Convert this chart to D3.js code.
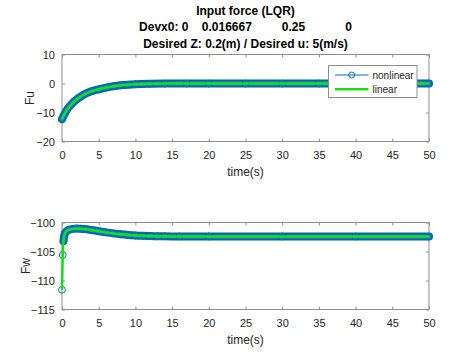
<!DOCTYPE html>
<html><head><meta charset="utf-8">
<script src="https://cdn.jsdelivr.net/npm/d3@7"></script>
<style>
body{margin:0;background:#fff}
svg{display:block;font-family:"Liberation Sans",Arial,Helvetica,sans-serif}
</style>
</head><body>
<svg id="c" width="474" height="355"></svg>
<script>
// ---- data ----
const titleLines = ["Input force (LQR)",
  "Devx0: 0    0.016667         0.25            0",
  "Desired Z: 0.2(m) / Desired u: 5(m/s)"];
const xTicks = [0, 5, 10, 15, 20, 25, 30, 35, 40, 45, 50];
const fuTicks = [-20, -10, 0, 10];
const fwTicks = [-115, -110, -105, -100];
const legendLabels = ["nonlinear", "linear"];
const xLabel = "time(s)";

const fuTime = [0, 0.25, 0.5, 0.75, 1, 1.5, 2, 2.5, 3, 4, 5, 6, 7, 8, 9, 10, 12, 14, 17, 20, 25, 30, 35, 40, 45, 50];
const fuNonlinear = [-12.3, -11.0, -9.8, -8.8, -8.0, -6.6, -5.5, -4.6, -3.8, -2.7, -2.0, -1.4, -0.95, -0.62, -0.4, -0.25, -0.1, -0.04, 0, 0, 0, 0, 0, 0, 0, 0];
const fuLinear = [-12.3, -11.0, -9.8, -8.8, -8.0, -6.6, -5.5, -4.6, -3.8, -2.7, -2.0, -1.4, -0.95, -0.62, -0.4, -0.25, -0.1, -0.04, 0, 0, 0, 0, 0, 0, 0, 0];

const fwTime = [0, 0.1, 0.2, 0.3, 0.4, 0.5, 0.75, 1, 1.5, 2, 2.5, 3, 4, 5, 6, 7, 8, 9, 10, 11, 12, 13, 14, 16, 20, 30, 40, 50];
const fwNonlinear = [-111.6, -105.6, -103.2, -102.3, -101.9, -101.65, -101.38, -101.24, -101.1, -101.05, -101.07, -101.13, -101.3, -101.5, -101.7, -101.88, -102.03, -102.15, -102.24, -102.3, -102.34, -102.37, -102.39, -102.41, -102.42, -102.42, -102.42, -102.42];
const fwLinear = [-111.6, -105.6, -103.2, -102.3, -101.9, -101.65, -101.38, -101.24, -101.1, -101.05, -101.07, -101.13, -101.3, -101.5, -101.7, -101.88, -102.03, -102.15, -102.24, -102.3, -102.34, -102.37, -102.39, -102.41, -102.42, -102.42, -102.42, -102.42];

// ---- layout / style ----
const svg = d3.select("#c");
const X0 = 62, X1 = 429;
const sampleDt = 0.1;          // simulation step: markers merge into a band where samples are dense
const blue = "#0a62aa", teal = "#2a90c0", green = "#14e014";
const axisCol = "#8f8f8f", textCol = "#262626";

svg.append("g").selectAll("text").data(titleLines).join("text")
  .attr("x", 245.5).attr("y", (d, i) => 14.5 + i * 16.7)
  .attr("text-anchor", "middle").attr("font-size", 12).attr("font-weight", "bold")
  .attr("fill", "#000").style("white-space", "pre").text(d => d);

const x = d3.scaleLinear().domain([0, 50]).range([X0, X1]);

const panels = [
  {label: "Fu", ticks: fuTicks, domain: [-20, 10], top: 54.5, bottom: 141.5, t: fuTime, nl: fuNonlinear, li: fuLinear, legend: true, labelX: 33.5},
  {label: "Fw", ticks: fwTicks, domain: [-115, -100], top: 222.5, bottom: 309.5, t: fwTime, nl: fwNonlinear, li: fwLinear, legend: false, labelX: 29.5}
];

panels.forEach(p => {
  const y = d3.scaleLinear().domain(p.domain).range([p.bottom, p.top]);
  const g = svg.append("g");

  const styleAxis = sel => {
    sel.select(".domain").remove();
    sel.selectAll(".tick line").attr("stroke", axisCol);
    sel.selectAll(".tick text").attr("fill", textCol).attr("font-size", 11)
      .attr("font-family", '"Liberation Sans",Arial,sans-serif');
  };
  g.append("g").attr("transform", `translate(0,${p.bottom})`)
    .call(d3.axisBottom(x).tickValues(xTicks).tickSizeInner(-3).tickSizeOuter(0).tickPadding(9.6)).call(styleAxis);
  g.append("g").attr("transform", `translate(0,${p.top})`)
    .call(d3.axisTop(x).tickValues(xTicks).tickSizeInner(-3).tickSizeOuter(0).tickFormat("")).call(styleAxis);
  g.append("g").attr("transform", `translate(${X0},0)`)
    .call(d3.axisLeft(y).tickValues(p.ticks).tickSizeInner(-3).tickSizeOuter(0).tickPadding(7)).call(styleAxis);
  g.append("g").attr("transform", `translate(${X1},0)`)
    .call(d3.axisRight(y).tickValues(p.ticks).tickSizeInner(-3).tickSizeOuter(0).tickFormat("")).call(styleAxis);

  g.append("rect").attr("x", X0).attr("y", p.top).attr("width", X1 - X0).attr("height", p.bottom - p.top)
    .attr("fill", "none").attr("stroke", axisCol).attr("stroke-width", 1);

  g.append("text").attr("x", (X0 + X1) / 2).attr("y", p.bottom + 34.7).attr("text-anchor", "middle")
    .attr("font-size", 12).attr("fill", textCol).text(xLabel);
  g.append("text").attr("transform", `translate(${p.labelX},${(p.top + p.bottom) / 2}) rotate(-90)`)
    .attr("text-anchor", "middle").attr("font-size", 12).attr("fill", textCol).text(p.label);

  const nlPts = p.t.map((t, i) => [t, p.nl[i]]);
  const liPts = p.t.map((t, i) => [t, p.li[i]]);
  const line = d3.line().x(d => x(d[0])).y(d => y(d[1])).curve(d3.curveMonotoneX);

  // dense-marker band: segments where consecutive samples are closer than a marker
  const runs = [];
  let cur = null;
  for (let i = 0; i < nlPts.length - 1; i++) {
    const a = nlPts[i], b = nlPts[i + 1];
    const dist = Math.hypot(x(b[0]) - x(a[0]), y(b[1]) - y(a[1]));
    const n = Math.max(1, Math.round((b[0] - a[0]) / sampleDt));
    if (dist / n < 6) {
      if (!cur) { cur = [a]; runs.push(cur); }
      cur.push(b);
    } else cur = null;
  }
  runs.forEach(r => {
    g.append("path").attr("d", line(r)).attr("fill", "none").attr("stroke", blue)
      .attr("stroke-width", 8).attr("stroke-linecap", "round").attr("stroke-linejoin", "round");
    g.append("path").attr("d", line(r)).attr("fill", "none").attr("stroke", teal)
      .attr("stroke-width", 3.8).attr("stroke-linecap", "round").attr("stroke-linejoin", "round");
  });
  g.append("path").attr("d", line(nlPts)).attr("fill", "none").attr("stroke", "#0072BD").attr("stroke-width", 1);
  g.selectAll("circle.m").data(nlPts).join("circle").attr("class", "m")
    .attr("cx", d => x(d[0])).attr("cy", d => y(d[1])).attr("r", 3.4)
    .attr("fill", "none").attr("stroke", "#0072BD").attr("stroke-width", 1);
  g.append("path").attr("d", line(liPts)).attr("fill", "none").attr("stroke", green)
    .attr("stroke-width", 2.5).attr("stroke-linejoin", "round");

  if (p.legend) {
    const lg = g.append("g");
    lg.append("rect").attr("x", 328.5).attr("y", 65.5).attr("width", 88.5).attr("height", 32)
      .attr("fill", "#fff").attr("stroke", axisCol).attr("stroke-width", 1);
    const rows = lg.selectAll("g.row").data(legendLabels).join("g").attr("class", "row")
      .attr("transform", (d, i) => `translate(0,${75 + i * 14.3})`);
    rows.append("line").attr("x1", 335).attr("x2", 368.5).attr("y1", 0).attr("y2", 0)
      .attr("stroke", (d, i) => i === 0 ? "#0072BD" : green).attr("stroke-width", (d, i) => i === 0 ? 1 : 2.5);
    rows.filter((d, i) => i === 0).append("circle").attr("cx", 351.7).attr("cy", 0).attr("r", 3)
      .attr("fill", "none").attr("stroke", "#0072BD").attr("stroke-width", 1);
    rows.append("text").attr("x", 372.5).attr("y", 3.6).attr("font-size", 10).attr("fill", textCol).text(d => d);
  }
});
</script>
</body></html>
